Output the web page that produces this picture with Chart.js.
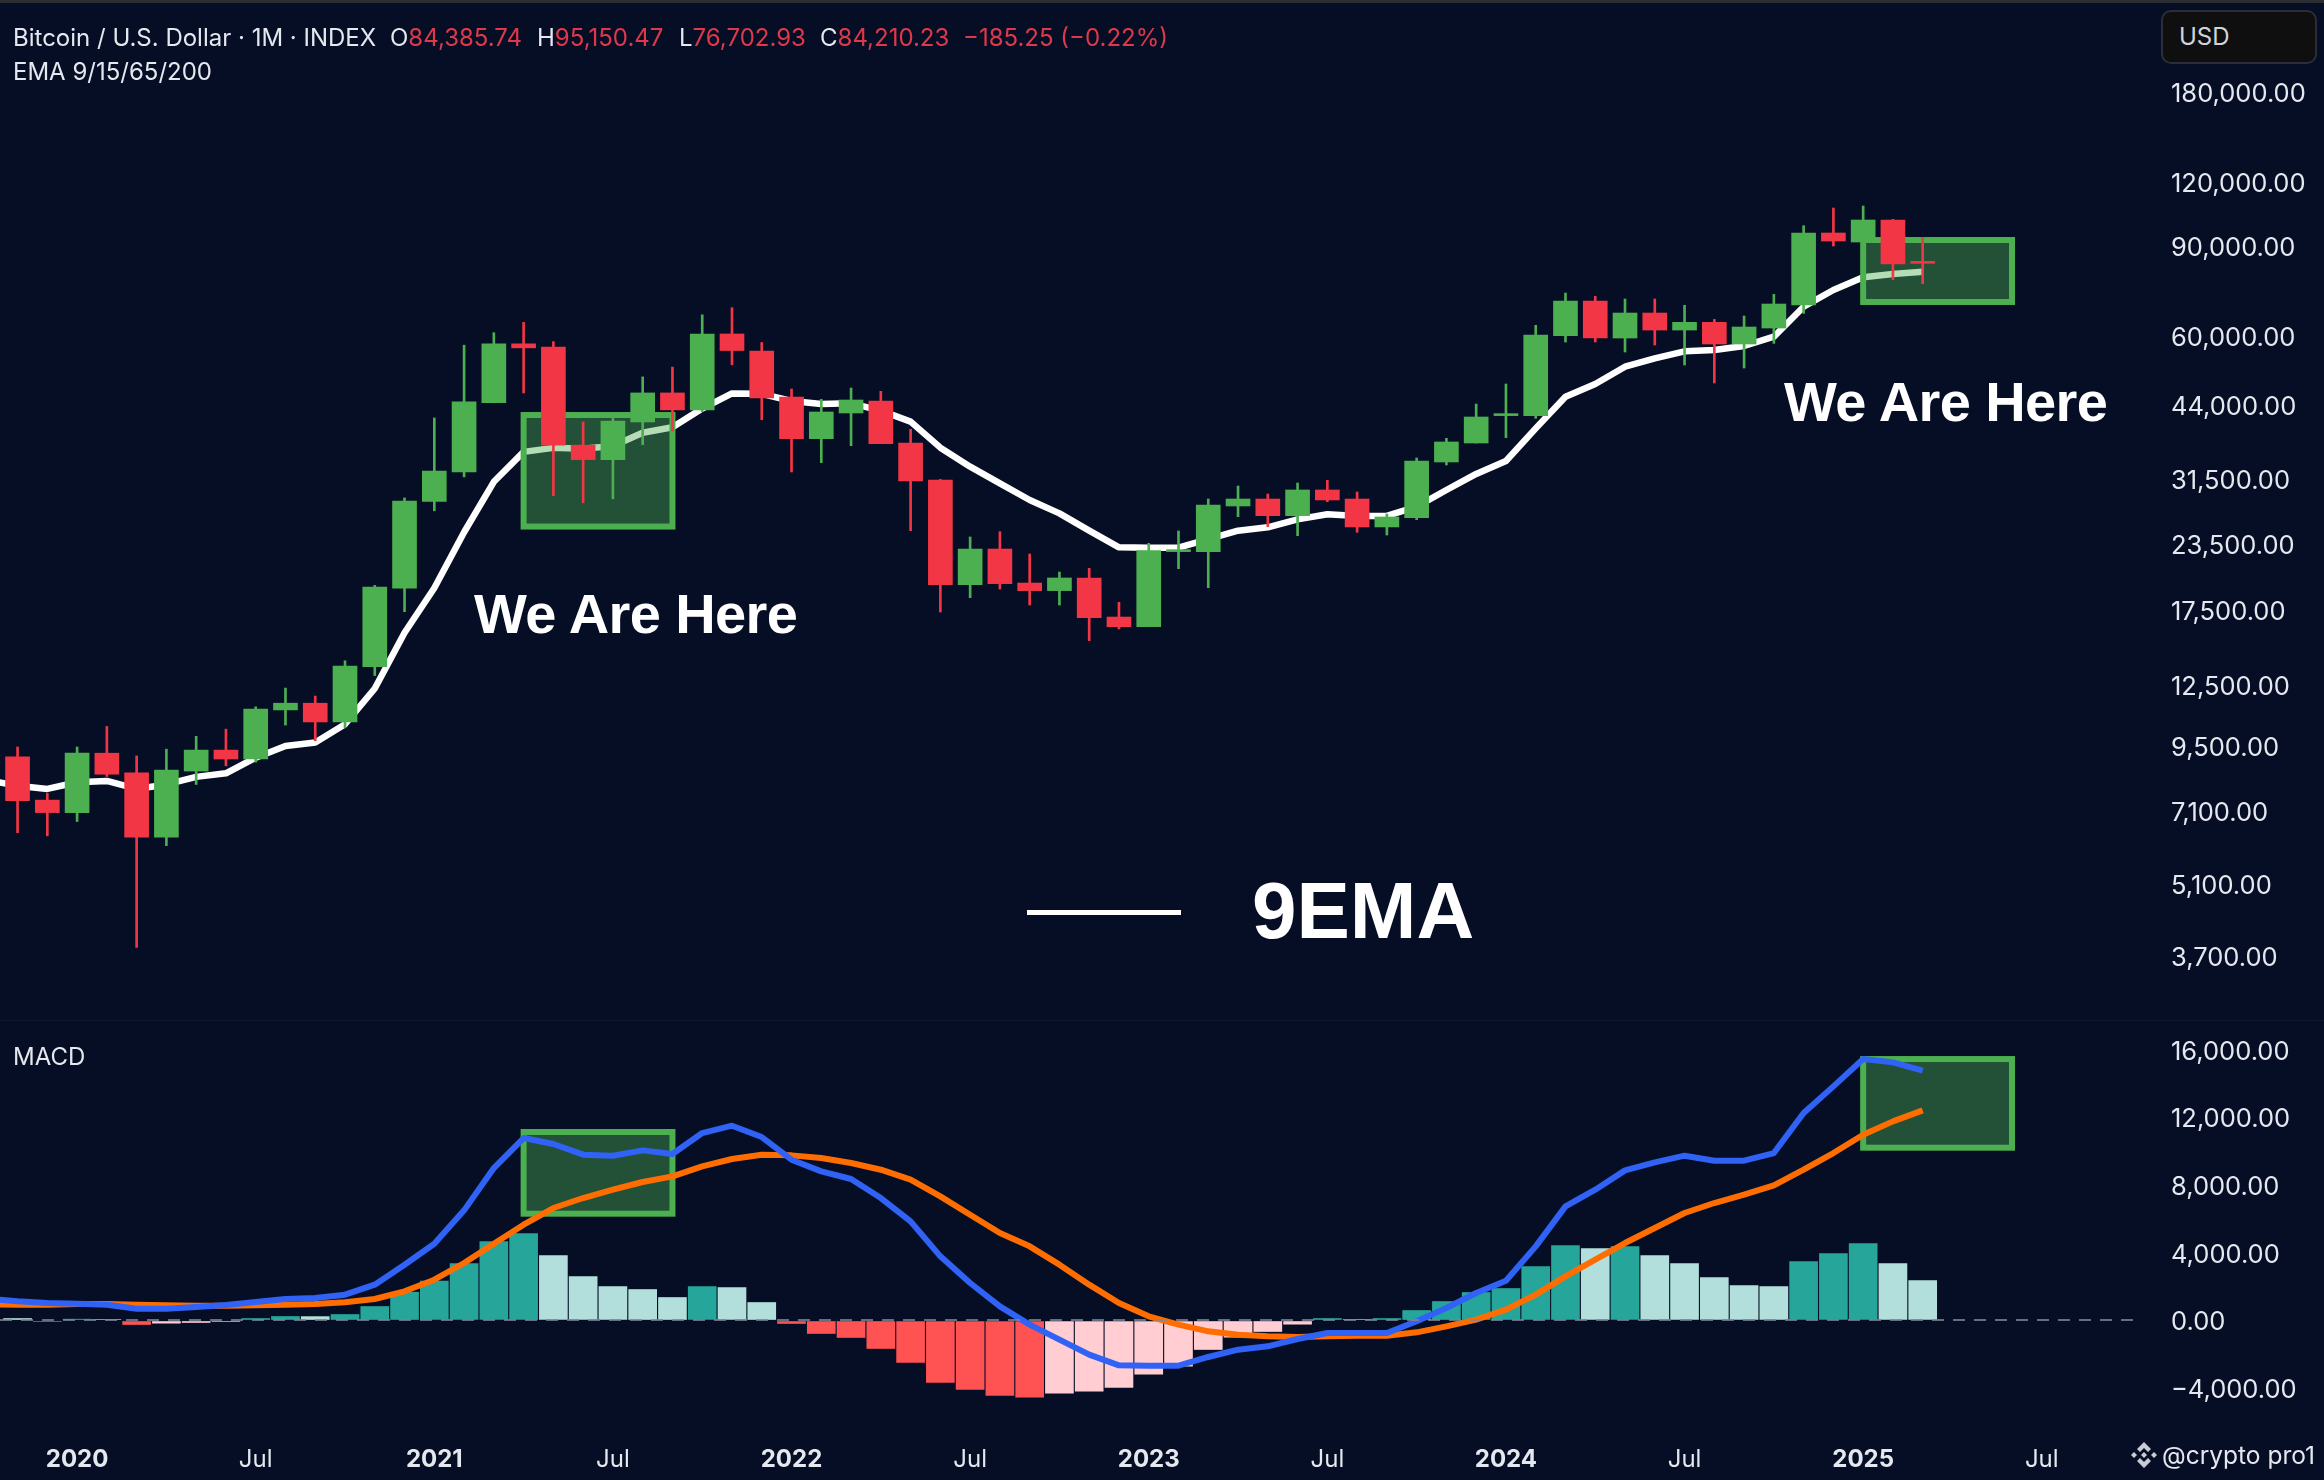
<!DOCTYPE html>
<html lang="en">

<head>
    <meta charset="UTF-8">
    <title>Bitcoin / U.S. Dollar - 1M</title>
    <script src="https://cdn.jsdelivr.net/npm/chart.js"></script>
    <style>
        html, body { margin: 0; padding: 0; background: #060E26; }
        body { position: relative; width: 2324px; height: 1480px; overflow: hidden; font-family: Inter, sans-serif; color: #e6e8ef; }
        canvas { position: absolute; left: 0; }
        #priceChart { top: 0; }
        #macdChart { top: 1020px; }
        .txt { position: absolute; white-space: nowrap; font-size: 24px; line-height: 28px; }
        .red { color: #e0384b; }
        #topStripe { position: absolute; left: 0; top: 0; width: 2324px; height: 3px; background: #2b2d33; }
        #paneLine { position: absolute; left: 0; top: 1020px; width: 2324px; height: 1px; background: #10182f; }
        #usd { position: absolute; left: 2161px; top: 10px; width: 152px; height: 50px; background: #0f0f10; border: 2px solid #2a2e39; border-radius: 10px; }
        .bigLabel { position: absolute; white-space: nowrap; color: #fff; font-family: "Liberation Sans", sans-serif; font-weight: bold; }
        #legendLine { position: absolute; left: 1027px; top: 910px; width: 154px; height: 5px; background: #fff; }
        #mark { position: absolute; left: 2130px; top: 1441px; }
    </style>
</head>

<body>
    <canvas id="priceChart" width="2324" height="1020"></canvas>
    <canvas id="macdChart" width="2324" height="460"></canvas>

    <div id="topStripe"></div>
    <div id="paneLine"></div>

    <div class="txt" style="left:13px;top:24px">Bitcoin / U.S. Dollar · 1M · INDEX</div>
    <div class="txt" style="left:390px;top:24px">O<span class="red">84,385.74</span></div>
    <div class="txt" style="left:537px;top:24px">H<span class="red">95,150.47</span></div>
    <div class="txt" style="left:679px;top:24px">L<span class="red">76,702.93</span></div>
    <div class="txt" style="left:820px;top:24px">C<span class="red">84,210.23</span></div>
    <div class="txt red" style="left:963px;top:24px">−185.25 (−0.22%)</div>
    <div class="txt" style="left:13px;top:58px">EMA 9/15/65/200</div>
    <div class="txt" style="left:13px;top:1043px">MACD</div>

    <div id="usd"></div>
    <div class="txt" style="left:2179px;top:23px;color:#d1d4dc">USD</div>

    <div class="bigLabel" style="left:474px;top:580px;font-size:56px;line-height:68px;letter-spacing:-0.6px">We Are Here</div>
    <div class="bigLabel" style="left:1784px;top:368px;font-size:56px;line-height:68px;letter-spacing:-0.6px">We Are Here</div>
    <div id="legendLine"></div>
    <div class="bigLabel" style="left:1252px;top:865px;font-size:80px;line-height:92px">9EMA</div>

    <svg id="mark" width="28" height="28" viewBox="0 0 28 28">
        <g fill="#c9ccd6">
            <path d="M14 1l7 7-3 3-4-4-4 4-3-3z" />
            <path d="M14 27l7-7-3-3-4 4-4-4-3 3z" />
            <path d="M4 11l3 3-3 3-3-3z" />
            <path d="M24 11l3 3-3 3-3-3z" />
            <path d="M14 11l3 3-3 3-3-3z" />
        </g>
    </svg>
    <div class="txt" style="left:2162px;top:1441px;font-size:24.5px;color:#e6e8ef">@crypto pro1</div>

    <script>
        // monthly candles, first one is Nov 2019
        const opens = [9059, 7456, 7049, 9207, 8428, 6312, 8496, 9336, 8969, 11185, 11527, 10595, 13590, 19347, 28559, 32606, 44509, 58011, 57202, 36781, 34464, 40820, 46518, 43103, 60634, 56179, 45675, 37876, 42506, 44864, 37141, 31452, 19641, 23058, 19788, 19123, 20244, 16982, 16263, 22788, 22788, 27982, 28871, 26791, 30069, 28871, 25463, 26552, 34104, 37141, 42004, 42004, 60173, 70330, 59545, 66630, 61725, 63895, 57970, 62282, 69067, 95482, 91690, 101230, 83680];
        const highs = [9468, 7684, 9468, 10384, 9095, 9374, 9935, 10259, 11342, 12340, 11903, 13949, 19581, 29023, 41568, 57659, 60993, 63877, 58594, 40820, 41482, 49995, 52254, 66100, 68256, 58360, 47353, 45195, 47562, 46850, 39499, 31545, 24341, 24929, 22548, 20793, 21141, 18142, 23653, 25006, 28871, 30610, 29528, 31028, 31406, 29798, 26992, 34722, 37930, 44261, 48427, 63042, 72896, 71813, 70960, 70960, 68970, 64755, 65735, 72460, 98680, 106835, 107800, 101530, 93630];
        const lows = [6440, 6350, 6771, 8293, 3845, 6076, 7999, 8702, 8843, 10447, 9738, 10322, 13054, 17394, 27382, 31892, 44509, 46518, 29314, 28383, 28901, 36854, 39217, 42759, 52790, 41235, 32600, 33995, 36700, 37033, 25044, 17369, 18528, 19263, 17926, 17926, 15274, 16094, 16263, 21110, 19379, 26668, 25493, 24488, 28531, 24859, 24557, 26312, 33648, 37141, 38046, 41502, 58487, 58487, 55910, 57700, 52746, 48640, 52030, 58137, 66535, 90050, 91690, 77404, 76020];
        const closes = [7440, 7049, 9207, 8377, 6312, 8530, 9336, 8969, 11229, 11527, 10595, 13616, 19424, 28616, 32737, 44688, 58011, 56971, 36781, 34464, 40983, 46518, 43103, 60634, 56291, 45502, 37876, 42700, 45065, 37033, 31306, 19641, 23058, 19734, 19123, 20244, 16936, 16263, 22888, 22957, 28106, 28871, 26791, 30069, 28747, 25463, 26629, 34258, 37312, 41749, 42313, 60361, 70330, 59545, 66630, 61725, 63895, 57970, 62570, 69383, 95482, 92100, 101230, 83050, 83300];
        const ema9 = [7951, 7840, 8080, 8129, 7840, 7999, 8277, 8410, 9023, 9506, 9660, 10489, 12316, 15828, 19347, 24866, 31197, 35688, 36339, 36195, 36631, 38906, 39855, 43362, 46421, 46328, 44864, 44261, 44392, 42954, 40882, 36369, 33393, 30981, 28747, 27070, 25044, 23236, 23200, 23200, 24117, 25044, 25423, 26351, 26954, 26753, 26753, 27897, 30069, 32311, 34258, 39671, 45741, 48420, 52345, 54345, 56078, 56417, 57447, 59907, 68558, 73890, 78228, 79403, 80239];

        const macdLine = [1134, 1035, 996, 937, 700, 700, 799, 917, 1094, 1272, 1331, 1528, 2120, 3303, 4545, 6517, 9022, 10796, 10441, 9811, 9752, 10067, 9850, 11092, 11526, 10856, 9515, 8825, 8371, 7247, 5867, 3796, 2219, 838, -246, -1134, -2021, -2652, -2672, -2672, -2159, -1726, -1528, -1094, -740, -740, -740, -49, 740, 1627, 2357, 4388, 6754, 7740, 8884, 9357, 9752, 9456, 9456, 9909, 12276, 13853, 15471, 15273, 14780];
        const signalLine = [937, 937, 976, 976, 937, 897, 878, 878, 897, 937, 976, 1075, 1272, 1726, 2416, 3402, 4545, 5670, 6655, 7247, 7740, 8194, 8529, 9121, 9554, 9811, 9771, 9613, 9318, 8923, 8332, 7346, 6261, 5176, 4388, 3303, 2120, 1035, 247, -246, -641, -838, -937, -976, -937, -897, -897, -700, -345, 49, 641, 1528, 2613, 3599, 4585, 5472, 6360, 6951, 7444, 7996, 8923, 9909, 10994, 11783, 12434];
        const histogram = [118, -60, 79, 60, -237, -158, -118, -60, 118, 237, 230, 355, 828, 1676, 2327, 3372, 4674, 5147, 3845, 2603, 2011, 1834, 1361, 2011, 1952, 1065, -177, -769, -1006, -1656, -2485, -3668, -4082, -4437, -4538, -4302, -4183, -3964, -3177, -2700, -1716, -988, -651, -219, 118, 59, 118, 592, 1124, 1656, 1893, 3195, 4437, 4260, 4378, 3845, 3372, 2544, 2071, 2011, 3490, 3964, 4555, 3372, 2366];

        // values of the month before the first candle, the lines run off the left edge
        const emaBefore = 8150;
        const macdBefore = 1300;
        const signalBefore = 950;

        const priceTicks = [180000, 120000, 90000, 60000, 44000, 31500, 23500, 17500, 12500, 9500, 7100, 5100, 3700];
        const macdTicks = [16000, 12000, 8000, 4000, 0, -4000];
        const xTickIndex = [2, 8, 14, 20, 26, 32, 38, 44, 50, 56, 62, 68];
        const xTickLabels = ['2020', 'Jul', '2021', 'Jul', '2022', 'Jul', '2023', 'Jul', '2024', 'Jul', '2025', 'Jul'];

        // highlighted zones: [first candle, last candle, top value, bottom value]
        const priceBoxes = [[17, 22, 42120, 25510], [62, 67, 92520, 70020]];
        const macdBoxes = [[17, 22, 11153, 6320], [62, 67, 15470, 10225]];

        const GREEN = '#4CAF50';
        const RED = '#F23645';
        const X_MIN = -0.59;
        const X_MAX = 71.3;
        const AXIS_WIDTH = 184;

        const isUp = i => closes[i] >= opens[i];
        const candleColor = ctx => isUp(ctx.dataIndex) ? GREEN : RED;
        const linePoints = (before, values) => [{ x: -1, y: before }].concat(values.map((v, i) => ({ x: i, y: v })));

        function histColor(ctx) {
            const i = ctx.dataIndex;
            const v = histogram[i];
            const prev = i > 0 ? histogram[i - 1] : v;
            if (v >= 0) return v > prev ? '#26A69A' : '#B2DFDB';
            return v < prev ? '#FF5252' : '#FFCDD2';
        }

        // draws the green zones right after the given dataset
        function boxPlugin(boxes, afterIndex) {
            return {
                id: 'zones',
                afterDatasetDraw(chart, args) {
                    if (args.index !== afterIndex) return;
                    const ctx = chart.ctx;
                    const { x, y } = chart.scales;
                    ctx.save();
                    ctx.lineWidth = 6;
                    ctx.strokeStyle = GREEN;
                    ctx.fillStyle = 'rgba(76, 175, 80, 0.42)';
                    boxes.forEach(b => {
                        const left = x.getPixelForValue(b[0]);
                        const right = x.getPixelForValue(b[1]);
                        const top = y.getPixelForValue(b[2]);
                        const bottom = y.getPixelForValue(b[3]);
                        ctx.fillRect(left, top, right - left, bottom - top);
                        ctx.strokeRect(left, top, right - left, bottom - top);
                    });
                    ctx.restore();
                }
            };
        }

        const yAxisCommon = {
            position: 'right',
            bounds: 'data',
            grid: { display: false, drawTicks: false },
            border: { display: false },
            afterFit: scale => {
                // tick padding must not eat into the plot height
                scale.width = AXIS_WIDTH;
                scale.paddingTop = 0;
                scale.paddingBottom = 0;
            }
        };
        const tickFont = { family: 'Inter', size: 25.5 };

        new Chart(document.getElementById('priceChart'), {
            data: {
                datasets: [{
                    type: 'bar',
                    order: 1,
                    grouped: false,
                    data: opens.map((o, i) => ({ x: i, y: [o, closes[i]] })),
                    backgroundColor: candleColor,
                    barThickness: 24,
                    minBarLength: 2
                }, {
                    type: 'bar',
                    order: 2,
                    grouped: false,
                    data: highs.map((h, i) => ({ x: i, y: [lows[i], h] })),
                    backgroundColor: candleColor,
                    barThickness: 2
                }, {
                    type: 'line',
                    order: 3,
                    data: linePoints(emaBefore, ema9),
                    borderColor: '#FFFFFF',
                    borderWidth: 6.5,
                    pointRadius: 0,
                    tension: 0,
                    borderJoinStyle: 'round'
                }]
            },
            options: {
                responsive: false,
                animation: false,
                layout: { padding: 0 },
                plugins: { legend: { display: false }, tooltip: { enabled: false } },
                scales: {
                    x: { type: 'linear', offset: false, min: X_MIN, max: X_MAX, display: false },
                    y: Object.assign({}, yAxisCommon, {
                        type: 'logarithmic',
                        min: 2774,
                        max: 272230,
                        afterBuildTicks: scale => { scale.ticks = priceTicks.map(v => ({ value: v })); },
                        ticks: {
                            autoSkip: false,
                            crossAlign: 'near',
                            padding: 31,
                            labelOffset: 2,
                            color: '#e6e8ef',
                            font: tickFont,
                            callback: v => Number(v).toLocaleString('en-US', { minimumFractionDigits: 2 })
                        }
                    })
                }
            },
            plugins: [boxPlugin(priceBoxes, 2)]
        });

        new Chart(document.getElementById('macdChart'), {
            data: {
                datasets: [{
                    type: 'line',
                    order: 1,
                    data: linePoints(macdBefore, macdLine),
                    borderColor: '#2F62F5',
                    borderWidth: 6,
                    pointRadius: 0,
                    tension: 0,
                    borderJoinStyle: 'round'
                }, {
                    type: 'line',
                    order: 2,
                    data: linePoints(signalBefore, signalLine),
                    borderColor: '#FF6D00',
                    borderWidth: 6,
                    pointRadius: 0,
                    tension: 0,
                    borderJoinStyle: 'round'
                }, {
                    type: 'bar',
                    order: 3,
                    data: histogram.map((v, i) => ({ x: i, y: v })),
                    backgroundColor: histColor,
                    barThickness: 28
                }]
            },
            options: {
                responsive: false,
                animation: false,
                layout: { padding: 0 },
                plugins: { legend: { display: false }, tooltip: { enabled: false } },
                scales: {
                    x: {
                        type: 'linear',
                        offset: false,
                        min: X_MIN,
                        max: X_MAX,
                        grid: { display: false, drawTicks: false },
                        border: { display: false },
                        afterFit: scale => {
                            scale.height = 40;
                            scale.paddingLeft = 0;
                            scale.paddingRight = 0;
                        },
                        afterBuildTicks: scale => { scale.ticks = xTickIndex.map(v => ({ value: v })); },
                        ticks: {
                            autoSkip: false,
                            maxRotation: 0,
                            padding: 5,
                            color: '#e6e8ef',
                            font: c => ({ family: 'Inter', size: 24, weight: xTickLabels[c.index] === 'Jul' ? 'normal' : 'bold' }),
                            callback: (v, i) => xTickLabels[i]
                        }
                    },
                    y: Object.assign({}, yAxisCommon, {
                        type: 'linear',
                        min: -7071,
                        max: 17781,
                        grid: {
                            drawTicks: false,
                            z: 1,
                            lineWidth: 2,
                            color: c => c.tick.value === 0 ? 'rgba(130, 135, 150, 0.8)' : 'transparent'
                        },
                        border: { display: false, dash: [12, 9] },
                        afterBuildTicks: scale => { scale.ticks = macdTicks.map(v => ({ value: v })); },
                        ticks: {
                            autoSkip: false,
                            crossAlign: 'near',
                            padding: 31,
                            labelOffset: 2,
                            color: '#e6e8ef',
                            font: tickFont,
                            callback: v => (v < 0 ? '−' : '') + Math.abs(v).toLocaleString('en-US', { minimumFractionDigits: 2 })
                        }
                    })
                }
            },
            plugins: [boxPlugin(macdBoxes, 2)]
        });
    </script>

</body>

</html>
